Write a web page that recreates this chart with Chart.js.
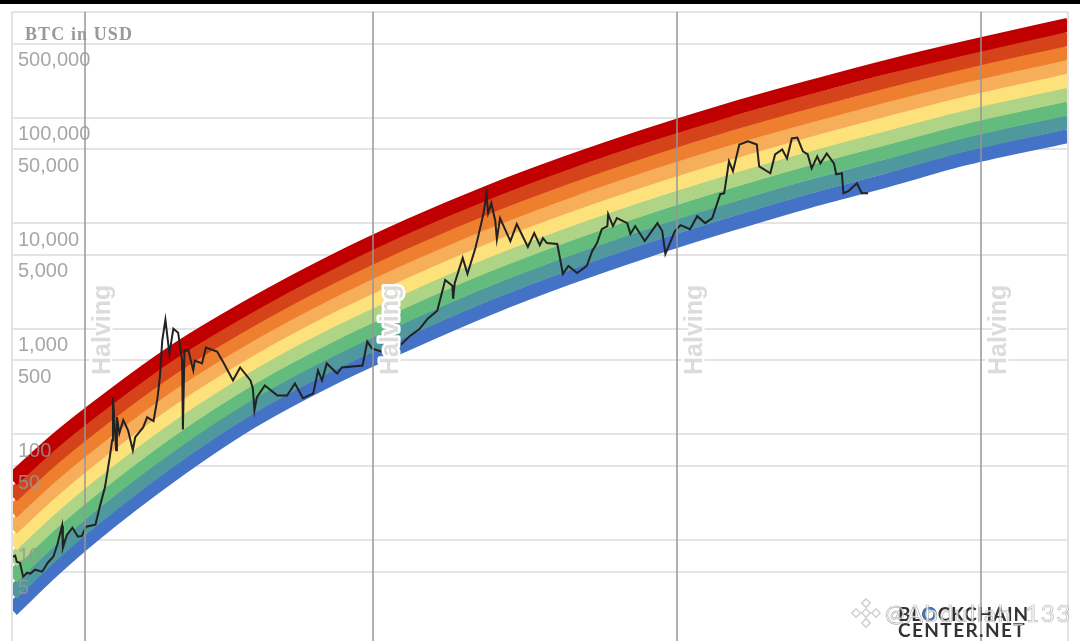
<!DOCTYPE html>
<html>
<head>
<meta charset="utf-8">
<title>BTC rainbow chart</title>
<script src="https://cdn.jsdelivr.net/npm/chart.js@4"></script>
<style>
html, body { margin: 0; padding: 0; background: #fff; overflow: hidden; }
#topBar { position: absolute; left: 0; top: 0; width: 1080px; height: 4px; background: #000; }
canvas { position: absolute; left: 0; top: 0; }
</style>
</head>
<body>
<canvas id="rainbow" width="1080" height="653"></canvas>
<div id="topBar"></div>
<script>
const bandYears = [2011.99, 2012.5, 2013, 2014, 2015, 2016, 2017, 2018, 2019, 2020, 2021, 2022, 2023, 2024, 2025.275];

// Band centre lines in USD, bottom band first
const bandBlue = [2.17, 5.08, 10.8, 41.0, 131, 334, 744, 1573, 3056, 5565, 9616, 16060, 25510, 41320, 66820];
const bandTeal = [3.09, 7.2, 15.2, 57.3, 180, 458, 1023, 2160, 4188, 7617, 13150, 21890, 34760, 55850, 90460];
const bandGreen = [4.41, 10.2, 21.4, 79.9, 248, 629, 1408, 2965, 5738, 10420, 17970, 29830, 47360, 75490, 122500];
const bandLightGreen = [6.28, 14.5, 30.0, 111, 340, 864, 1937, 4071, 7863, 14270, 24570, 40650, 64530, 102000, 165800];
const bandYellow = [8.96, 20.5, 42.3, 155, 468, 1186, 2665, 5589, 10780, 19530, 33590, 55400, 87920, 137900, 224500];
const bandLightOrange = [12.8, 29.0, 59.5, 217, 643, 1629, 3667, 7673, 14770, 26720, 45920, 75500, 119800, 186400, 303900];
const bandOrange = [18.2, 41.2, 83.7, 302, 885, 2237, 5046, 10530, 20230, 36570, 62780, 102900, 163200, 252000, 411400];
const bandRedOrange = [26.0, 58.3, 118, 422, 1216, 3072, 6944, 14460, 27720, 50050, 85820, 140200, 222400, 340600, 557000];
const bandRed = [37.0, 82.7, 166, 589, 1672, 4219, 9555, 19860, 37990, 68500, 117300, 191100, 303000, 460400, 754000];

const bandSeries = [bandRed, bandRedOrange, bandOrange, bandLightOrange, bandYellow, bandLightGreen, bandGreen, bandTeal, bandBlue];
const bandColors = ['#c00000', '#d5431a', '#ee7f2f', '#f6ae5b', '#fde27c', '#b0d485', '#63bc7d', '#4f999e', '#4472c6'];

// BTC price
const priceYears = [2012.00, 2012.03, 2012.05, 2012.09, 2012.13, 2012.18, 2012.22, 2012.28, 2012.37, 2012.44, 2012.51, 2012.56, 2012.62, 2012.63, 2012.68, 2012.75, 2012.82, 2012.87, 2012.92, 2013.04, 2013.09, 2013.16, 2013.20, 2013.22, 2013.25, 2013.26, 2013.30, 2013.31, 2013.34, 2013.39, 2013.45, 2013.51, 2013.54, 2013.64, 2013.69, 2013.77, 2013.82, 2013.85, 2013.88, 2013.92, 2013.97, 2014.02, 2014.08, 2014.10, 2014.13, 2014.14, 2014.16, 2014.21, 2014.27, 2014.29, 2014.38, 2014.43, 2014.57, 2014.65, 2014.77, 2014.86, 2014.99, 2015.02, 2015.04, 2015.07, 2015.17, 2015.33, 2015.45, 2015.55, 2015.65, 2015.78, 2015.84, 2015.89, 2015.95, 2016.08, 2016.14, 2016.40, 2016.46, 2016.52, 2016.60, 2016.68, 2016.87, 2017.00, 2017.12, 2017.22, 2017.34, 2017.44, 2017.53, 2017.54, 2017.56, 2017.66, 2017.72, 2017.82, 2017.85, 2017.92, 2017.96, 2017.98, 2018.02, 2018.07, 2018.09, 2018.13, 2018.26, 2018.34, 2018.48, 2018.56, 2018.63, 2018.67, 2018.72, 2018.85, 2018.89, 2018.92, 2018.99, 2019.10, 2019.22, 2019.29, 2019.35, 2019.41, 2019.48, 2019.49, 2019.55, 2019.60, 2019.73, 2019.77, 2019.83, 2019.95, 2020.11, 2020.17, 2020.21, 2020.33, 2020.40, 2020.52, 2020.61, 2020.71, 2020.80, 2020.90, 2020.95, 2021.01, 2021.06, 2021.14, 2021.25, 2021.36, 2021.39, 2021.53, 2021.59, 2021.68, 2021.74, 2021.80, 2021.87, 2021.94, 2022.00, 2022.05, 2022.12, 2022.16, 2022.24, 2022.33, 2022.36, 2022.43, 2022.45, 2022.51, 2022.62, 2022.68, 2022.76];
const priceValues = [6.91, 7.07, 6.20, 6.07, 4.48, 4.88, 4.78, 5.21, 4.99, 6.07, 6.91, 8.97, 13.6, 8.40, 11.1, 13.0, 10.7, 10.9, 13.3, 13.9, 20.0, 31.6, 48.9, 60.7, 87.8, 223, 70.6, 145, 102, 136, 109, 70.6, 93.7, 116, 145, 133, 219, 345, 771, 1216, 581, 1000, 917, 722, 499, 111, 620, 620, 402, 499, 468, 662, 607, 478, 323, 429, 323, 272, 168, 223, 290, 233, 233, 303, 219, 244, 402, 323, 468, 376, 429, 448, 754, 648, 620, 594, 691, 859, 1000, 1243, 1479, 2897, 2547, 1919, 2716, 4677, 3304, 5808, 7211, 12160, 18790, 12420, 15450, 10440, 7063, 11140, 6761, 9795, 5943, 8054, 6194, 7211, 6471, 6340, 4385, 3304, 3926, 3373, 3926, 5445, 6471, 8770, 9376, 12160, 9376, 11140, 10000, 7870, 9376, 6761, 10000, 8414, 5105, 8414, 9572, 8770, 11640, 10000, 11140, 18790, 19190, 38460, 30970, 55590, 59430, 55590, 34510, 29650, 44770, 49890, 41020, 63390, 64710, 47760, 44770, 33040, 42860, 36810, 45710, 36810, 28970, 29650, 19190, 20040, 23820, 19190, 19190];

const halvingYears = [2012.91, 2016.53, 2020.355, 2024.18];
const yTicks = [1000000, 500000, 100000, 50000, 10000, 5000, 1000, 500, 100, 50, 10, 5];
const xMin = 2011.99;
const xMax = 2025.275;

// Rotated labels and the logo texts
const overlayText = {
    id: 'overlayText',
    afterDraw(chart) {
        const ctx = chart.ctx;
        const x = chart.scales.x;

        ctx.save();
        ctx.font = 'bold 18px "Liberation Serif"';
        ctx.fillStyle = '#999';
        ctx.textBaseline = 'alphabetic';
        ctx.letterSpacing = '1.1px';
        ctx.fillText('BTC in USD', 25, 40);
        ctx.letterSpacing = '0px';

        halvingYears.forEach(year => {
            ctx.save();
            ctx.translate(x.getPixelForValue(year) + 25, 375);
            ctx.rotate(-Math.PI / 2);
            ctx.font = 'bold 25px "Liberation Sans"';
            ctx.lineJoin = 'round';
            ctx.lineWidth = 5;
            ctx.strokeStyle = '#fff';
            ctx.strokeText('Halving', 0, 0);
            ctx.fillStyle = '#dcdcdc';
            ctx.fillText('Halving', 0, 0);
            ctx.restore();
        });

        ctx.font = 'bold 19px Lato';
        ctx.fillStyle = '#333';
        ctx.letterSpacing = '0.8px';
        ctx.fillText('BLOCKCHAIN', 898, 621);
        const oOffset = ctx.measureText('BL').width;
        ctx.fillStyle = '#3b7dc4';
        ctx.fillText('O', 898 + oOffset, 621);
        ctx.fillStyle = '#333';
        ctx.letterSpacing = '1.4px';
        ctx.fillText('CENTER.NET', 898, 637);
        ctx.letterSpacing = '0px';

        // watermark on top of the logo
        ctx.translate(866, 613);
        ctx.rotate(Math.PI / 4);
        ctx.strokeStyle = '#d0d0d0';
        ctx.lineWidth = 1.5;
        ctx.strokeRect(-3, -3, 6, 6);
        [[-7, -7], [7, -7], [-7, 7], [7, 7]].forEach(p => {
            ctx.strokeRect(p[0] - 3, p[1] - 3, 6, 6);
        });
        ctx.setTransform(chart.currentDevicePixelRatio, 0, 0, chart.currentDevicePixelRatio, 0, 0);
        ctx.font = '24px Lato';
        ctx.letterSpacing = '1.6px';
        ctx.lineWidth = 0.7;
        ctx.strokeStyle = 'rgba(150,150,150,0.7)';
        ctx.fillStyle = 'rgba(255,255,255,0.75)';
        ctx.fillText('@Abdullah_133', 885, 622);
        ctx.strokeText('@Abdullah_133', 885, 622);
        ctx.letterSpacing = '0px';
        ctx.restore();
    }
};

const datasets = [{
    data: priceYears.map((year, i) => ({ x: year, y: priceValues[i] })),
    borderColor: '#222',
    borderWidth: 2,
    pointRadius: 0,
    tension: 0
}];

bandSeries.forEach((values, i) => {
    datasets.push({
        data: bandYears.map((year, j) => ({ x: year, y: values[j] })),
        borderColor: bandColors[i],
        borderWidth: 14,
        borderCapStyle: 'butt',
        cubicInterpolationMode: 'monotone',
        pointRadius: 0
    });
});

new Chart(document.getElementById('rainbow').getContext('2d'), {
    type: 'line',
    data: { datasets: datasets },
    plugins: [overlayText],
    options: {
        responsive: false,
        animation: false,
        layout: { padding: { top: 0, left: 0, right: 12, bottom: 0 } },
        plugins: { legend: { display: false }, tooltip: { enabled: false } },
        scales: {
            x: {
                type: 'linear',
                min: xMin,
                max: xMax,
                afterBuildTicks: scale => {
                    scale.ticks = [xMin, ...halvingYears, xMax].map(value => ({ value }));
                },
                border: { display: false },
                grid: {
                    z: 1,
                    drawTicks: false,
                    lineWidth: 2,
                    color: c => (c.index === 0 || c.index === 5) ? '#e2e2e2' : 'rgba(150,150,150,0.75)'
                },
                ticks: { display: false, autoSkip: false }
            },
            y: {
                type: 'logarithmic',
                min: 1.1,
                max: 1000000,
                afterBuildTicks: scale => {
                    scale.ticks = yTicks.map(value => ({ value }));
                },
                border: { display: false },
                grid: { drawTicks: false, lineWidth: 2, color: '#e4e4e4' },
                ticks: {
                    z: 1,
                    mirror: true,
                    autoSkip: false,
                    padding: 6,
                    labelOffset: 17,
                    color: 'rgba(150,150,150,0.85)',
                    font: { family: '"Liberation Sans"', size: 20, lineHeight: 0.6 },
                    callback: value => value === 1000000 ? '' : value.toLocaleString('en-US')
                }
            }
        }
    }
});
</script>
</body>
</html>
